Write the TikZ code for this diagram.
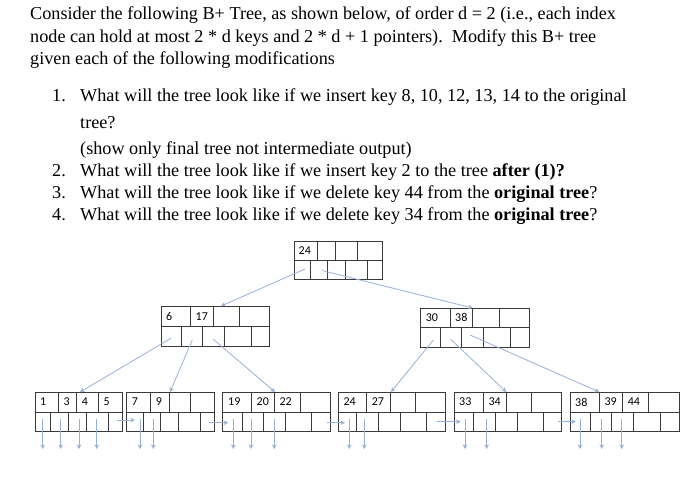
\documentclass[tikz,border=0pt]{standalone}
\usepackage{fontspec}
\setmainfont{Liberation Serif}
\newfontfamily\keyfont{Carlito}
\usetikzlibrary{arrows.meta}
\definecolor{boxc}{HTML}{3A3A3A}
\definecolor{ptrc}{HTML}{98B2D4}
\tikzset{
  txt/.style={anchor=base west, inner sep=0pt, font=\fontsize{18.2}{22}\selectfont},
  bpframe/.style={draw=boxc, line width=0.8pt, inner sep=0pt, outer sep=0pt, rectangle},
  bpline/.style={draw=boxc, line width=0.8pt},
  keylbl/.style={anchor=west, inner sep=0pt, font=\keyfont\fontsize{12}{13}\selectfont},
  ptr/.style={draw=ptrc, line width=0.8pt, -{Stealth[length=4.5pt,width=4.5pt,inset=1.2pt]}},
}
% name, L, R, T, M, B, top dividers, bottom dividers
\newcommand\bpbox[8]{%
  \node[bpframe, minimum width={(#3)-(#2)}, minimum height={(#6)-(#4)}] (#1) at ({((#2)+(#3))/2},{((#4)+(#6))/2}) {};
  \draw[bpline] (#2,#5) -- (#3,#5);
  \foreach \xx in {#7} {\draw[bpline] (\xx,#4) -- (\xx,#5);}
  \foreach \xx in {#8} {\draw[bpline] (\xx,#5) -- (\xx,#6);}
}
\begin{document}
\begin{tikzpicture}[x=1pt,y=-1pt]
\useasboundingbox (0,0) rectangle (700,482);
\fill[white] (0,0) rectangle (700,482);

% question text
\node[txt] (t1) at (30,19.5) {Consider the following B+ Tree, as shown below, of order d = 2 (i.e., each index};
\node[txt] (t2) at (30,42.5) {node can hold at most 2 * d keys and 2 * d + 1 pointers).\ \ Modify this B+ tree};
\node[txt] (t3) at (30,64.5) {given each of the following modifications};
\node[txt] (n1) at (52,101) {1.};
\node[txt] (q1) at (80,101) {What will the tree look like if we insert key 8, 10, 12, 13, 14 to the original};
\node[txt] (q1b) at (80,128) {tree?};
\node[txt] (q1c) at (80,154) {(show only final tree not intermediate output)};
\node[txt] (n2) at (52,176) {2.};
\node[txt] (q2) at (80,176) {What will the tree look like if we insert key 2 to the tree \textbf{after (1)?}};
\node[txt] (n3) at (52,198) {3.};
\node[txt] (q3) at (80,198) {What will the tree look like if we delete key 44 from the \textbf{original tree}?};
\node[txt] (n4) at (52,220) {4.};
\node[txt] (q4) at (80,220) {What will the tree look like if we delete key 34 from the \textbf{original tree}?};

% root
\bpbox{R}{294}{382}{241}{260}{279}{317,335.5,357}{310.5,327,345.7,367}
\node[keylbl] (kR1) at (298.5,250.5) {24};
% index nodes
\bpbox{I1}{161}{269.3}{306}{326.5}{346}{190.5,213.3,239.7}{181.5,202.3,224.7,251}
\node[keylbl] (kI11) at (166,316.3) {6};
\node[keylbl] (kI12) at (195.5,316.3) {17};
\bpbox{I2}{420.7}{529.3}{308}{327}{347}{450,472.7,499}{440.5,461.3,483.3,510.3}
\node[keylbl] (kI21) at (425.7,317.5) {30};
\node[keylbl] (kI22) at (455,317.5) {38};
% leaves
\bpbox{L1}{35}{122.7}{392}{412}{431.7}{58.3,76.7,98.3}{50.7,68.3,86.7,108.3}
\node[keylbl] (k11) at (40,402) {1};
\node[keylbl] (k12) at (63.3,402) {3};
\node[keylbl] (k13) at (81.7,402) {4};
\node[keylbl] (k14) at (103.3,402) {5};
\bpbox{L2}{126.7}{214.3}{392}{412}{431.7}{150.7,169.3,190}{143.3,160.7,178.3,200}
\node[keylbl] (k21) at (131.7,402) {7};
\node[keylbl] (k22) at (155.7,402) {9};
\bpbox{L3}{222.7}{330}{392}{412}{431.7}{251.7,274.3,300}{242.7,263.3,285.7,311.7}
\node[keylbl] (k31) at (228,402) {19};
\node[keylbl] (k32) at (256.5,402) {20};
\node[keylbl] (k33) at (279.3,402) {22};
\bpbox{L4}{338.3}{445.7}{392}{412}{431.7}{366.7,390,415}{356.7,378.3,400,426.7}
\node[keylbl] (k41) at (343.3,402) {24};
\node[keylbl] (k42) at (371.7,402) {27};
\bpbox{L5}{454}{561.7}{392}{412}{431.7}{483.3,506,531.7}{473.3,495,517.3,543.3}
\node[keylbl] (k51) at (459,402) {33};
\node[keylbl] (k52) at (488.3,402) {34};
\bpbox{L6}{570}{679.3}{392}{412}{431.7}{599.3,622.7,648.3}{590.7,611.7,633.3,660}
\node[keylbl] (k61) at (575,402) {38};
\node[keylbl] (k62) at (604.3,402) {39};
\node[keylbl] (k63) at (627.7,402) {44};

% tree pointers
\coordinate (pR0) at (305,269);    \coordinate (eI1) at (221,306);
\coordinate (pR1) at (321.7,270.5);\coordinate (eI2) at (472.7,308);
\coordinate (pA0) at (171,338.3);  \coordinate (eL1) at (80,392);
\coordinate (pA1) at (192.3,340);  \coordinate (eL2) at (170,392);
\coordinate (pA2) at (213.3,339.3);\coordinate (eL3) at (275,392);
\coordinate (pB0) at (433.3,340);  \coordinate (eL4) at (391,392);
\coordinate (pB1) at (450.7,339.3);\coordinate (eL5) at (506.3,392);
\coordinate (pB2) at (470,335);    \coordinate (eL6) at (599.3,392);
\draw[ptr] (pR0) -- (eI1);
\draw[ptr] (pR1) -- (eI2);
\draw[ptr] (pA0) -- (eL1);
\draw[ptr] (pA1) -- (eL2);
\draw[ptr] (pA2) -- (eL3);
\draw[ptr] (pB0) -- (eL4);
\draw[ptr] (pB1) -- (eL5);
\draw[ptr] (pB2) -- (eL6);

% sibling pointers
\coordinate (s1a) at (116.7,420);   \coordinate (s1b) at (135,420);
\coordinate (s2a) at (209.3,422.7); \coordinate (s2b) at (228.3,422.7);
\coordinate (s3a) at (326.7,422.7); \coordinate (s3b) at (345,422.7);
\coordinate (s4a) at (437,421.7);   \coordinate (s4b) at (460.7,421.7);
\coordinate (s5a) at (558.3,421.7); \coordinate (s5b) at (576,421.7);
\foreach \i in {1,...,5} {\draw[ptr] (s\i a) -- (s\i b);}

% record pointers
\foreach \xx [count=\i] in {42.7,60.7,79,96.7,140,153.3,233.3,251,274.3,349.3,364.3,465,486.7,580,601.7,621.7} {
  \coordinate (d\i s) at (\xx,419);
  \coordinate (d\i e) at (\xx,449);
  \draw[ptr] (d\i s) -- (d\i e);
}
\end{tikzpicture}
\end{document}
